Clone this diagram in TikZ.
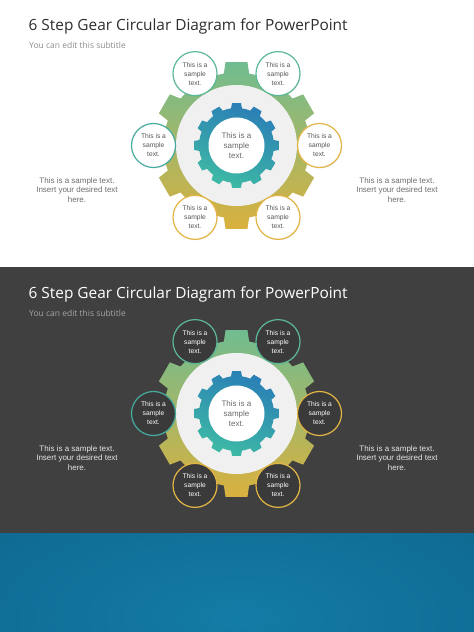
\documentclass[tikz,border=0pt]{standalone}
\usepackage{fontspec}
\setmainfont{Liberation Sans}
\newfontfamily\titlefont{Open Sans}
\usetikzlibrary{calc,shadows}
\definecolor{tealA}{HTML}{5DB896}
\definecolor{tealB}{HTML}{45AC9F}
\definecolor{goldA}{HTML}{E2B544}
\definecolor{ringtop}{HTML}{70BC90}
\definecolor{ringbot}{HTML}{DAB13E}
\definecolor{gtop}{HTML}{2A7EB6}
\definecolor{gbot}{HTML}{3EBAA5}
\definecolor{darkbg}{HTML}{404040}
\definecolor{darkcirc}{HTML}{3A3A3A}
\definecolor{diskgray}{HTML}{F0F0F0}
\definecolor{titlegray}{HTML}{2E2E2E}
\definecolor{subgray}{HTML}{8C8C8C}
\definecolor{sidegray}{HTML}{6E6E6E}
\definecolor{centergray}{HTML}{6A6A6A}
\definecolor{circtext}{HTML}{555555}
\definecolor{blueIn}{HTML}{137CA6}
\definecolor{blueOut}{HTML}{0C5A80}
\pgfdeclareradialshading{bluerad}{\pgfpoint{0bp}{0bp}}{color(0bp)=(blueIn); color(50bp)=(blueOut)}
\newcommand\gearteeth[5]{%
  (#4:#2) \foreach \k in {1,...,#1} { arc[start angle={(\k-1)*360/#1+#4}, end angle={\k*360/#1-#4}, radius=#2] -- ({\k*360/#1-#5}:#3) -- ({\k*360/#1+#5}:#3) -- ({\k*360/#1+#4}:#2) } -- cycle}
\tikzset{
  circ/.style={circle, minimum size=44pt, inner sep=0pt, line width=1.2pt, align=center,
    font=\fontsize{6.7}{9}\selectfont,
    drop shadow={opacity=0.15, shadow xshift=0.6pt, shadow yshift=-0.9pt}},
  sidetext/.style={align=center, inner sep=0pt, font=\fontsize{8}{9.3}\selectfont},
  centertext/.style={align=center, inner sep=0pt, text=centergray, font=\fontsize{8}{10}\selectfont},
}
% #1 prefix, #2 circle fill, #3 circle text, #4 title colour, #5 subtitle colour, #6 side text colour
\newcommand\slidecontent[6]{%
  \coordinate (#1C) at (236.5,-145.5);
  \node[anchor=base west, inner sep=0pt, text=#4, font=\titlefont\fontsize{15.4}{18}\selectfont] (#1title) at (28.5,-31) {6 Step Gear Circular Diagram for PowerPoint};
  \node[anchor=base west, inner sep=0pt, text=#5, font=\titlefont\fontsize{8.5}{10}\selectfont] (#1sub) at (29,-48.5) {You can edit this subtitle};
  \shade[shift={(236.5,-145.5)}, top color=ringtop, bottom color=ringbot] \gearteeth{12}{73}{84}{10}{7.5};
  \fill[diskgray] (#1C) circle[radius=60.5];
  \shade[shift={(236.5,-145.5)}, top color=gtop, bottom color=gbot, shading angle=-20] \gearteeth{12}{37.5}{42.5}{8.5}{6};
  \fill[white] (#1C) circle[radius=28];
  \node[centertext] (#1ct) at (#1C) {This is a\\sample\\text.};
  \node[circ, draw=goldA, fill=#2, text=#3] (#1n0) at ($(#1C)+(0:83)$) {This is a\\sample\\text.};
  \node[circ, draw=tealA, fill=#2, text=#3] (#1n1) at ($(#1C)+(60:83)$) {This is a\\sample\\text.};
  \node[circ, draw=tealA, fill=#2, text=#3] (#1n2) at ($(#1C)+(120:83)$) {This is a\\sample\\text.};
  \node[circ, draw=tealB, fill=#2, text=#3] (#1n3) at ($(#1C)+(180:83)$) {This is a\\sample\\text.};
  \node[circ, draw=goldA, fill=#2, text=#3] (#1n4) at ($(#1C)+(240:83)$) {This is a\\sample\\text.};
  \node[circ, draw=goldA, fill=#2, text=#3] (#1n5) at ($(#1C)+(300:83)$) {This is a\\sample\\text.};
  \node[sidetext, text=#6] (#1left) at (77,-190) {This is a sample text.\\Insert your desired text\\here.};
  \node[sidetext, text=#6] (#1right) at (397,-190) {This is a sample text.\\Insert your desired text\\here.};
}
\begin{document}
\begin{tikzpicture}[x=1pt,y=1pt]
\useasboundingbox (0,0) rectangle (474,632);
\fill[white] (0,365) rectangle (474,632);
\fill[darkbg] (0,98) rectangle (474,365);
\begin{scope}
  \clip (0,0) rectangle (474,98);
  \shade[shading=bluerad] (-60,-115) rectangle (534,145);
\end{scope}
\begin{scope}[shift={(0,632)}]
  \slidecontent{a}{white}{circtext}{titlegray}{subgray}{sidegray}
\end{scope}
\begin{scope}[shift={(0,364)}]
  \slidecontent{b}{darkcirc}{white}{white}{black!35}{black!10}
\end{scope}
\end{tikzpicture}
\end{document}
